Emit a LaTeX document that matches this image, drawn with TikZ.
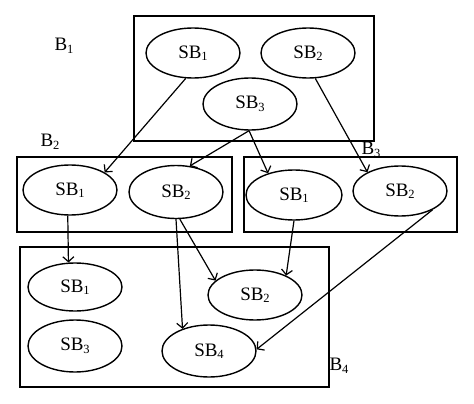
\documentclass[tikz,border=0pt]{standalone}
\usepackage{fontspec}
\setmainfont{Liberation Serif}
\usetikzlibrary{shapes.geometric,arrows.meta}
\newcommand{\sbsub}[1]{\raisebox{-2.5pt}{\fontsize{12.5}{13}\selectfont#1}}

\begin{document}
\begin{tikzpicture}[x=1pt,y=-1pt,
    blk/.style={draw,line width=2pt},
    sblk/.style={draw,ellipse,line width=1.4pt,minimum width=94pt,minimum height=50pt,inner sep=0pt,font=\fontsize{19}{21}\selectfont},
    lbl/.style={font=\fontsize{19}{21}\selectfont},
    link/.style={-{Straight Barb[length=5pt,width=11pt]},line width=1.2pt}]
          \useasboundingbox (0,0) rectangle (474,404);

          % blocks
          \draw[blk] (134,16) rectangle (374,141);
          \draw[blk] (17,157) rectangle (232,232);
          \draw[blk] (244,157) rectangle (457,232);
          \draw[blk] (20,247) rectangle (329,387);

          \node[lbl] (l1) at (64,46) {B\sbsub{1}};
          \node[lbl] (l2) at (50,142) {B\sbsub{2}};
          \node[lbl] (l3) at (371,150) {B\sbsub{3}};
          \node[lbl] (l4) at (339,366) {B\sbsub{4}};

          % sub-blocks
          \node[sblk] (a1) at (193,53) {SB\sbsub{1}};
          \node[sblk] (a2) at (308,53) {SB\sbsub{2}};
          \node[sblk,minimum height=52pt] (a3) at (250,104) {SB\sbsub{3}};

          \node[sblk] (b1) at (70,190) {SB\sbsub{1}};
          \node[sblk,minimum height=53pt] (b2) at (176,192) {SB\sbsub{2}};

          \node[sblk,minimum width=96pt] (c1) at (294,195) {SB\sbsub{1}};
          \node[sblk] (c2) at (400,191) {SB\sbsub{2}};

          \node[sblk,minimum height=48pt] (d1) at (75,287) {SB\sbsub{1}};
          \node[sblk,minimum height=52pt] (d3) at (75,346) {SB\sbsub{3}};
          \node[sblk] (d2) at (255,295) {SB\sbsub{2}};
          \node[sblk,minimum height=52pt] (d4) at (209,351) {SB\sbsub{4}};

          % links
          \draw[link] (a1.254) -- (b1.27);
          \draw[link] (a2.286) -- (c2.150);
          \draw[link] (a3.268) -- (b2.62);
          \draw[link] (a3.268) -- (c1.140);
          \draw[link] (b1.265) -- (d1.105);
          \draw[link] (b2.270) -- (d4.140);
          \draw[link] (b2.278) -- (d2.160);
          \draw[link] (c1.270) -- (d2.32);
          \draw[link] (c2.330) -- (d4.2);
        \end{tikzpicture}
\end{document}
